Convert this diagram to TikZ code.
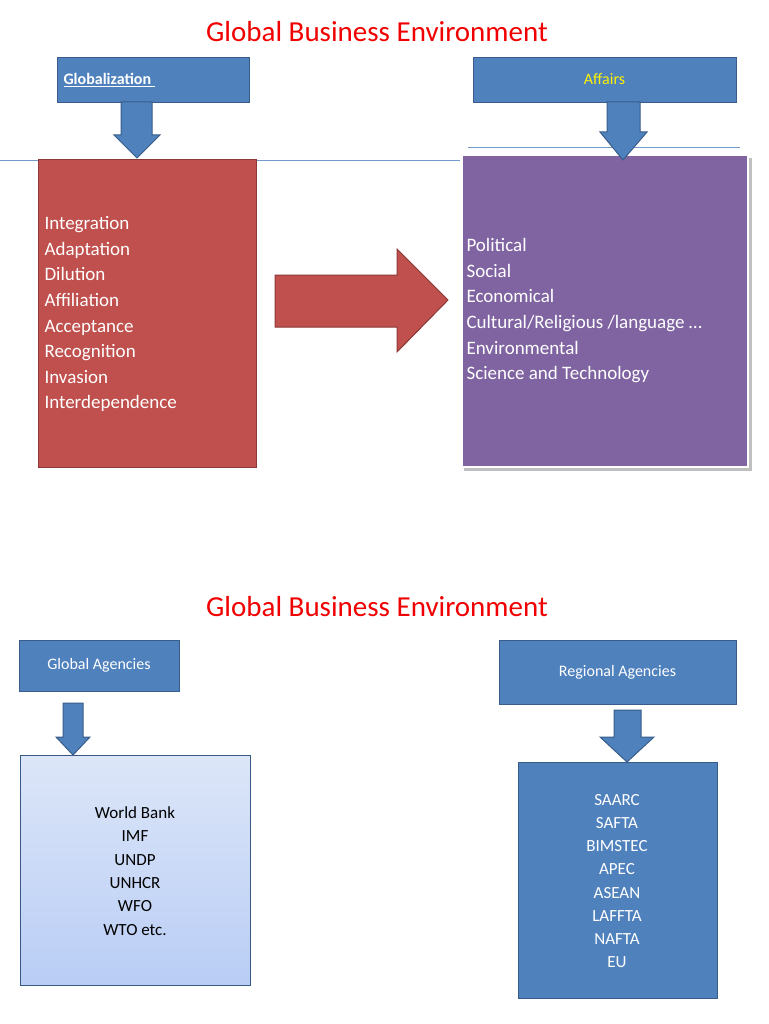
\documentclass[tikz,border=0pt]{standalone}
\usepackage{fontspec}
\setmainfont{Carlito}
\definecolor{bl}{HTML}{4F81BD}
\definecolor{bld}{HTML}{385D8A}
\definecolor{rd}{HTML}{C0504D}
\definecolor{rdd}{HTML}{8C3836}
\definecolor{pu}{HTML}{8064A2}
\definecolor{ttl}{HTML}{F00000}
\definecolor{lt1}{HTML}{DCE6F8}
\definecolor{lt2}{HTML}{B9CDF5}
\tikzset{
 hdr/.style={draw=bld,fill=bl,line width=0.8pt,text=white,font=\fontsize{16}{18}\selectfont},
 blk/.style={draw=bld,fill=bl,line width=1pt},
 ttlstyle/.style={text=ttl,font=\fontsize{29}{32}\selectfont},
}
\begin{document}
\begin{tikzpicture}[x=1pt,y=-1pt]
\useasboundingbox (0,0) rectangle (768,1024);
\node[ttlstyle] (t1) at (377,32) {Global Business Environment};
\node[ttlstyle] (t2) at (377,607) {Global Business Environment};
% top left
\draw[bl!80,line width=0.6pt] (0,160) -- (460,160);
\draw[bl!80,line width=0.6pt] (468,147) -- (740,147);
\node[hdr,minimum width=192pt,minimum height=45pt] (glob) at (153,79.5) {};
\node[text=white,font=\fontsize{16}{18}\selectfont\bfseries,anchor=west] (globt) at (60,80) {\underline{Globalization\ }};
\draw[blk] (121,102) -- (152,102) -- (152,135) -- (160,135) -- (137,158) -- (114,135) -- (121,135) -- cycle;
\node[draw=rdd,fill=rd,line width=1pt,minimum width=218pt,minimum height=307pt] (red) at (147,313.5) {};
\node[anchor=north west,text=white,align=left,font=\fontsize{19}{25.6}\selectfont] (redt) at (41,213) {Integration\\Adaptation\\Dilution\\Affiliation\\Acceptance\\Recognition\\Invasion\\Interdependence};
\draw[draw=rdd,fill=rd,line width=1pt] (275,275) -- (397,275) -- (397,249) -- (448,300) -- (397,352) -- (397,327) -- (275,327) -- cycle;
% top right
\node[hdr,text=yellow,minimum width=263pt,minimum height=45pt] (aff) at (604.5,79.5) {Affairs};
\fill[black!25] (464,158) rectangle (752,471);
\node[draw=white,fill=pu,line width=2pt,minimum width=286pt,minimum height=312pt] (pur) at (605,311) {};
\node[anchor=north west,text=white,align=left,font=\fontsize{19}{25.6}\selectfont] (purt) at (463,235) {Political\\Social\\Economical\\Cultural/Religious /language …\\Environmental\\Science and Technology};
\draw[blk] (607,102) -- (640,102) -- (640,132) -- (647,132) -- (623,160) -- (600,132) -- (607,132) -- cycle;
% bottom left
\node[hdr,minimum width=160pt,minimum height=51pt] (ga) at (99,665.5) {Global Agencies};
\draw[blk] (63,703) -- (83,703) -- (83,737) -- (90,737) -- (73,755) -- (56,737) -- (63,737) -- cycle;
\shade[top color=lt1,bottom color=lt2,draw=bl!70!black] (20,755) rectangle (250,985);
\node[align=center,font=\fontsize{17}{23.3}\selectfont] (gat) at (135,871) {World Bank\\IMF\\UNDP\\UNHCR\\WFO\\WTO etc.};
\coordinate (gabox) at (135,870);
% bottom right
\node[hdr,minimum width=237pt,minimum height=64pt] (ra) at (617.5,672) {Regional Agencies};
\draw[blk] (614,710) -- (641,710) -- (641,737) -- (654,737) -- (627,762) -- (600,737) -- (614,737) -- cycle;
\node[draw=bld,fill=bl,line width=1pt,minimum width=199pt,minimum height=236pt] (rb) at (617.5,880) {};
\node[align=center,text=white,font=\fontsize{17}{23.1}\selectfont] (rbt) at (617,881) {SAARC\\SAFTA\\BIMSTEC\\APEC\\ASEAN\\LAFFTA\\NAFTA\\EU};
\end{tikzpicture}
\end{document}
